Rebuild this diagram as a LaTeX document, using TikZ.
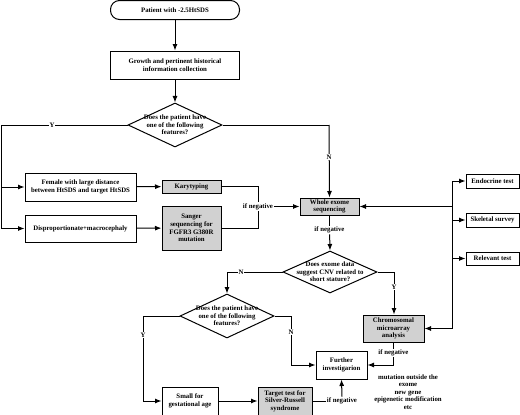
\documentclass[tikz,border=0pt]{standalone}
\usepackage{fontspec}
\setmainfont{Liberation Serif}
\usetikzlibrary{shapes.geometric,arrows.meta}
\tikzset{
  txt/.style={font=\bfseries\fontsize{6.8}{7.6}\selectfont, align=center},
  box/.style={txt, draw, line width=1pt, fill=white, inner sep=1pt},
  gbox/.style={box, fill=black!18},
  dec/.style={txt, draw, diamond, line width=1pt, fill=white, inner sep=-6pt, aspect=2.1},
  lab/.style={txt, fill=white, inner sep=1pt},
  ln/.style={line width=1pt},
  arr/.style={ln, -{Latex[length=6.5pt,width=5pt]}},
}
\begin{document}
\begin{tikzpicture}[x=1pt,y=-1pt]
\useasboundingbox (0,0) rectangle (520,415);
% nodes
\node[box, rounded corners=9pt, minimum width=129pt, minimum height=19pt] (p) at (175,10) {Patient with -2.5HtSDS};
\node[box, minimum width=129pt, minimum height=28pt] (g) at (175,65) {Growth and pertinent historical\\information collection};
\node[dec, minimum width=94pt, minimum height=44pt] (d1) at (175,125) {Does the patient have\\one of the following\\features?};
\node[box, minimum width=111pt, minimum height=28pt] (f) at (80.5,187) {Female with large distance\\between HtSDS and target HtSDS};
\node[box, minimum width=111pt, minimum height=27pt] (dm) at (80.5,228.5) {Disproportionate+macrocephaly};
\node[gbox, minimum width=59pt, minimum height=13pt] (k) at (191.5,186.5) {Karytyping};
\node[gbox, minimum width=59pt, minimum height=44pt] (s) at (191.5,228) {Sanger\\sequencing for\\FGFR3 G380R\\mutation};
\node[gbox, minimum width=59pt, minimum height=17pt] (w) at (329.5,206.5) {Whole exome\\sequencing};
\node[box, minimum width=53pt, minimum height=14pt] (e) at (492.5,181) {Endocrine test};
\node[box, minimum width=53pt, minimum height=14pt] (sk) at (492.5,220) {Skeletal survey};
\node[box, minimum width=53pt, minimum height=13pt] (r) at (492.5,258.5) {Relevant test};
\node[dec, minimum width=94pt, minimum height=42pt] (d2) at (330,272) {Does exome data\\suggest CNV related to\\short stature?};
\node[dec, minimum width=94pt, minimum height=44pt] (d3) at (227,316) {Does the patient have\\one of the following\\features?};
\node[gbox, minimum width=61pt, minimum height=27pt] (c) at (393.5,328.5) {Chromosomal\\microarray\\analysis};
\node[box, minimum width=51pt, minimum height=28pt] (fi) at (341.5,365) {Further\\investigarion};
\node[box, minimum width=56pt, minimum height=28pt] (sg) at (190,401) {Small for\\gestational age};
\node[gbox, minimum width=54pt, minimum height=28pt] (t) at (285,401) {Target test for\\Silver-Russell\\syndrome};
\node[txt] (note) at (408,392) {mutation outside the\\exome\\new gene\\epigenetic modification\\etc};
% coordinates
\coordinate (l1) at (1,125);
\coordinate (l2) at (1,187);
\coordinate (l3) at (1,228.5);
\coordinate (n1) at (329,125);
\coordinate (kb) at (258,186.5);
\coordinate (sb) at (258,228);
\coordinate (rt) at (452,181);
\coordinate (rs) at (452,220);
\coordinate (rr) at (452,258.5);
\coordinate (rw) at (452,206.5);
\coordinate (rc) at (452,328.5);
\coordinate (d2l) at (227,272);
\coordinate (d2r) at (394,272);
\coordinate (cb) at (393.5,365);
\coordinate (d3r) at (291,316);
\coordinate (d3rb) at (291,365);
\coordinate (d3l) at (143,316);
\coordinate (d3lb) at (143,401);
% connectors
\draw[arr] (p) -- (g);
\draw[arr] (g) -- (d1);
\draw[ln] (d1.west) -- (l1) -- (l3);
\node[lab] (y1) at (52,125) {Y};
\draw[arr] (l2) -- (f.west);
\draw[arr] (l3) -- (dm.west);
\draw[ln] (d1.east) -- (n1);
\draw[arr] (n1) -- (w.north);
\node[lab] (nl1) at (329,157) {N};
\draw[arr] (f) -- (k);
\draw[arr] (dm) -- (s);
\draw[ln] (k.east) -- (kb) -- (sb) -- (s.east);
\node[lab] (if1) at (258,206.5) {if negative};
\draw[arr] (if1) -- (w.west);
\draw[ln] (rt) -- (rc);
\draw[arr] (rt) -- (e.west);
\draw[arr] (rs) -- (sk.west);
\draw[arr] (rr) -- (r.west);
\draw[arr] (rw) -- (w.east);
\draw[arr] (rc) -- (c.east);
\node[lab] (if2) at (329.5,230) {if negative};
\draw[ln] (w.south) -- (if2);
\draw[arr] (if2) -- (d2.north);
\draw[ln] (d2.west) -- (d2l);
\draw[arr] (d2l) -- (d3.north);
\node[lab] (nl2) at (241,272) {N};
\draw[ln] (d2.east) -- (d2r);
\draw[arr] (d2r) -- (c.north -| d2r);
\node[lab] (yl2) at (394,287) {Y};
\node[lab] (if3) at (393.5,353) {if negative};
\draw[ln] (c.south) -- (if3);
\draw[ln] (if3) -- (cb);
\draw[arr] (cb) -- (fi.east);
\draw[ln] (d3.east) -- (d3r) -- (d3rb);
\draw[arr] (d3rb) -- (fi.west);
\node[lab] (nl3) at (291,332) {N};
\draw[ln] (d3.west) -- (d3l) -- (d3lb);
\draw[arr] (d3lb) -- (sg.west);
\node[lab] (yl3) at (143,335) {Y};
\draw[arr] (sg) -- (t);
\node[lab] (if4) at (342,401) {if negative};
\draw[ln] (t.east) -- (if4.west);
\draw[arr] (if4.north) -- (fi.south);
\end{tikzpicture}
\end{document}
